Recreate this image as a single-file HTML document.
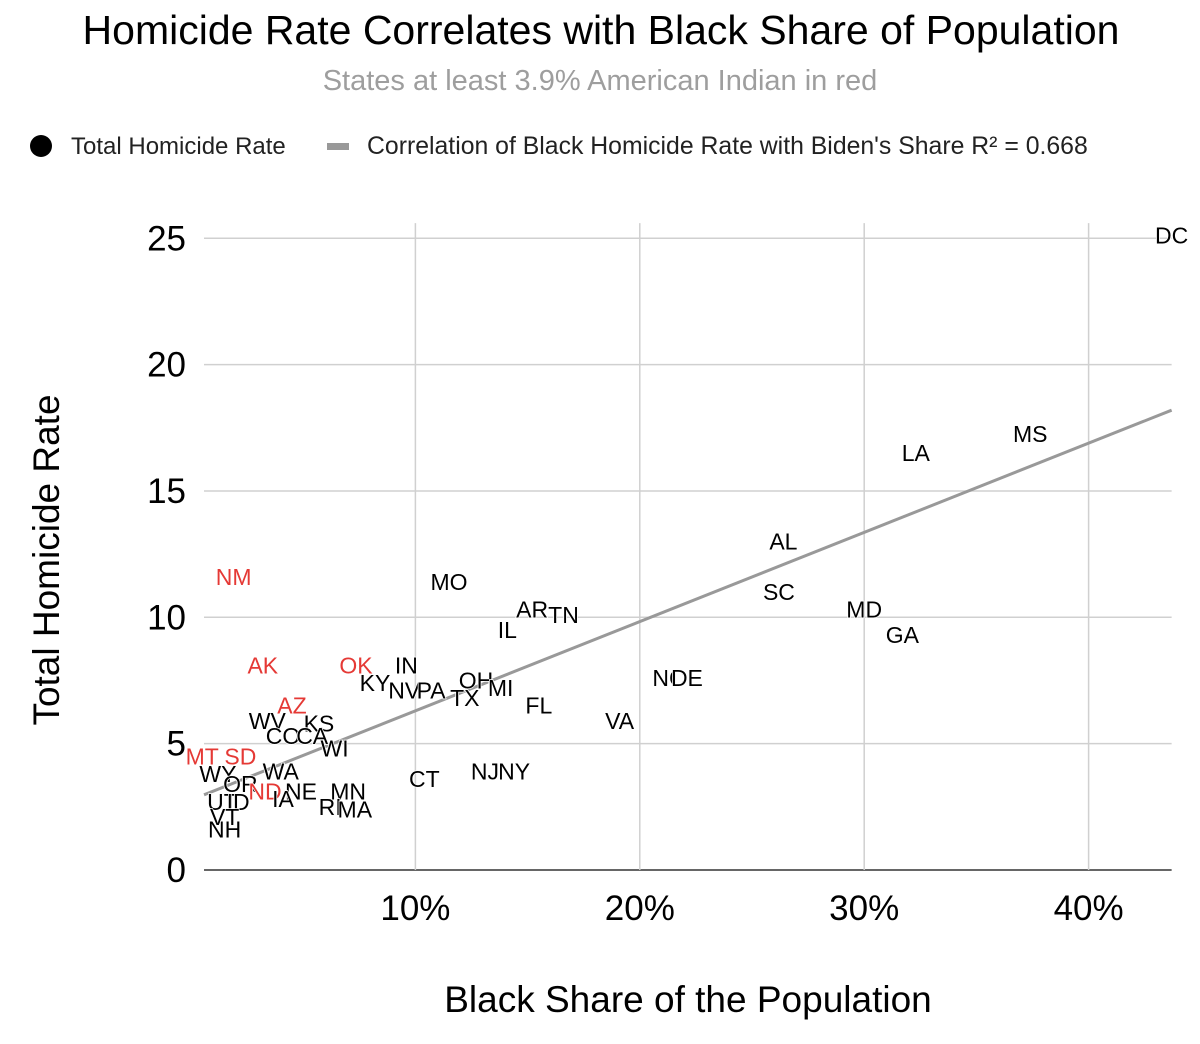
<!DOCTYPE html>
<html><head><meta charset="utf-8"><style>
body{margin:0;background:#fff;}
svg text{font-family:"Liberation Sans",Arial,sans-serif;}
</style></head><body>
<svg width="1200" height="1039" viewBox="0 0 1200 1039" xmlns="http://www.w3.org/2000/svg">
<text x="601" y="44" text-anchor="middle" font-size="41" fill="#000">Homicide Rate Correlates with Black Share of Population</text>
<text x="600" y="90" text-anchor="middle" font-size="29" fill="#9e9e9e">States at least 3.9% American Indian in red</text>
<g>
<circle cx="41" cy="146" r="11" fill="#000"/>
<text x="71" y="154" font-size="24" fill="#222">Total Homicide Rate</text>
<rect x="327" y="143" width="22" height="7" fill="#999"/>
<text x="367" y="154" font-size="24.8" fill="#222">Correlation of Black Homicide Rate with Biden's Share R² = 0.668</text>
</g>
<g id="grid"></g>
<g id="marks"></g>
<text x="688" y="1012" text-anchor="middle" font-size="37" fill="#000">Black Share of the Population</text>
<text transform="translate(59,560) rotate(-90)" text-anchor="middle" font-size="37" fill="#000">Total Homicide Rate</text>
</svg>
<script>
const states=["DC","MS","LA","AL","SC","MD","GA","NC","DE","VA","FL","MO","AR","TN","IL","IN","OK","KY","NV","PA","OH","TX","MI","CT","NJ","NY","NM","AK","AZ","WV","KS","CO","CA","WI","MT","SD","WY","OR","WA","ND","NE","IA","MN","RI","MA","UT","ID","VT","NH"];
const blackShare=[43.7,37.4,32.3,26.4,26.2,30.0,31.7,21.3,22.1,19.1,15.5,11.5,15.2,16.6,14.1,9.6,7.35,8.2,9.5,10.7,12.7,12.2,13.8,10.4,13.1,14.4,1.9,3.2,4.5,3.4,5.7,4.1,5.4,6.4,0.5,2.2,1.2,2.2,4.0,3.3,4.9,4.1,7.0,6.2,7.3,1.4,2.1,1.5,1.5];
const homicide=[25.1,17.25,16.5,13.0,11.0,10.3,9.3,7.6,7.6,5.9,6.5,11.4,10.3,10.1,9.5,8.1,8.1,7.4,7.1,7.1,7.5,6.8,7.2,3.6,3.9,3.9,11.6,8.1,6.5,5.9,5.8,5.3,5.3,4.8,4.5,4.5,3.8,3.4,3.9,3.1,3.1,2.8,3.1,2.5,2.4,2.7,2.7,2.1,1.6];
const redStates=["NM","AK","AZ","OK","MT","SD","ND"];
const xTicks=[10,20,30,40];
const yTicks=[0,5,10,15,20,25];
const trendSlope=0.353, trendIntercept=2.77;
const xMin=0.58,xMax=43.7;
const X=v=>191+v*22.44;
const Y=v=>870-v*25.27;
const NS="http://www.w3.org/2000/svg";
const grid=document.getElementById('grid'),marks=document.getElementById('marks');
function mk(tag,attrs,parent){const e=document.createElementNS(NS,tag);for(const k in attrs)e.setAttribute(k,attrs[k]);parent.appendChild(e);return e;}
yTicks.forEach(t=>{
 const l=mk('line',{x1:X(xMin),x2:X(xMax),y1:Y(t),y2:Y(t),stroke:t===0?'#333':'#d0d0d0','stroke-width':1.5},grid);
 
 
 const tx=mk('text',{x:186,y:Y(t)+12,'text-anchor':'end','font-size':35,fill:'#000'},grid);tx.textContent=t;
 
 
});
xTicks.forEach(t=>{
 const l=mk('line',{x1:X(t),x2:X(t),y1:Y(25.6),y2:Y(0),stroke:'#d0d0d0','stroke-width':1.5},grid);
 
 
 const tx=mk('text',{x:X(t),y:920,'text-anchor':'middle','font-size':35,fill:'#000'},grid);tx.textContent=t+'%';
 
 
});
const tl=mk('line',{x1:X(xMin),y1:Y(trendIntercept+trendSlope*xMin),x2:X(xMax),y2:Y(trendIntercept+trendSlope*xMax),stroke:'#999','stroke-width':3},marks);


states.forEach((s,i)=>{
 const t=mk('text',{x:X(blackShare[i]),y:Y(homicide[i])+8,'text-anchor':'middle','font-size':23,fill:redStates.includes(s)?'#e53935':'#000',stroke:'#fff','stroke-width':1.5,'paint-order':'stroke'},marks);
 t.textContent=s;
 
 
});
</script>
</body></html>
